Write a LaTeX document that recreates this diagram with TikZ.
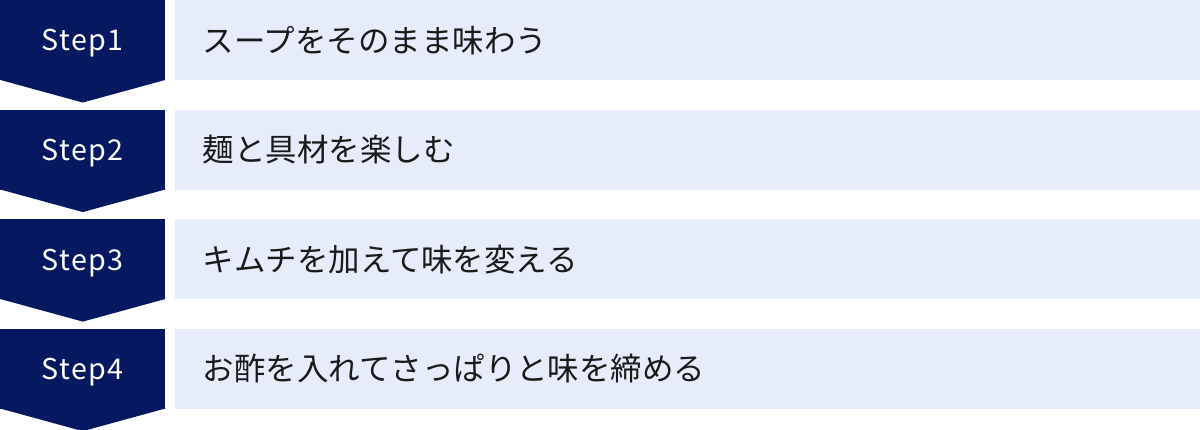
\documentclass[tikz,border=0pt]{standalone}
\usepackage{fontspec}
\setmainfont{Noto Sans CJK JP}
\newfontfamily\stepfont[LetterSpace=5]{Noto Sans CJK JP}
\usetikzlibrary{positioning}
\definecolor{stepnavy}{RGB}{6,24,96}
\definecolor{barblue}{RGB}{230,236,249}
\definecolor{bartext}{RGB}{26,26,26}

\begin{document}
\begin{tikzpicture}[x=0.75pt,y=0.75pt,
  stepbox/.style={fill=stepnavy,text=white,minimum width=123.75pt,minimum height=60pt,
    inner sep=0pt,text depth=0pt,font=\stepfont\fontsize{21.5}{24}\selectfont},
  barbox/.style={fill=barblue,text=bartext,minimum height=60pt,inner ysep=0pt,inner xsep=21pt,
    text width=727.5pt,align=left,font=\fontsize{23.6}{27}\selectfont}]
\useasboundingbox (0,0) rectangle (1200,-429);
\node[stepbox,anchor=north west] (step1) at (0,0) {Step1};
\node[stepbox,below=21.75pt of step1] (step2) {Step2};
\node[stepbox,below=21.75pt of step2] (step3) {Step3};
\node[stepbox,below=21.75pt of step3] (step4) {Step4};
% arrow points under each step
\foreach \n in {1,...,4}
  \fill[stepnavy] ([yshift=0.5pt]step\n.south west) -- ([yshift=0.5pt]step\n.south east)
    -- ([yshift=-16.5pt]step\n.south) -- cycle;
\node[barbox,right=6.75pt of step1] (bar1) {スープをそのまま味わう};
\node[barbox,right=6.75pt of step2] (bar2) {麺と具材を楽しむ};
\node[barbox,right=6.75pt of step3] (bar3) {キムチを加えて味を変える};
\node[barbox,right=6.75pt of step4] (bar4) {お酢を入れてさっぱりと味を締める};
\end{tikzpicture}
\end{document}
